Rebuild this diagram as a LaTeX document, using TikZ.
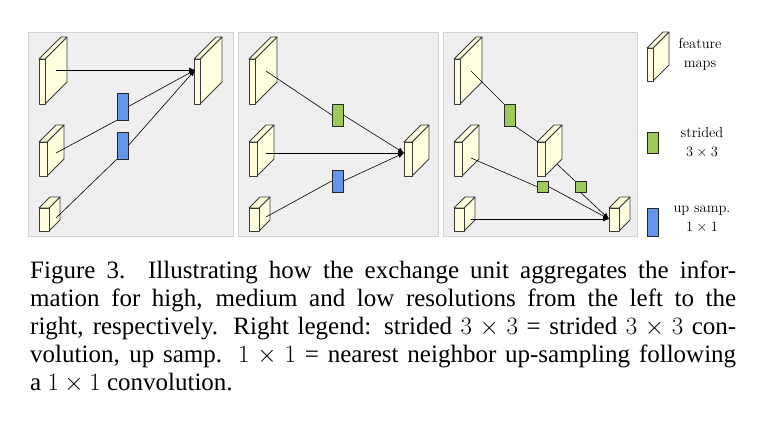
\documentclass[tikz,border=0pt]{standalone}
\usepackage{fontspec}
\newfontfamily\capfont{Liberation Serif}
\usetikzlibrary{arrows.meta}
\definecolor{cream}{HTML}{FFFFE0}
\definecolor{edge}{HTML}{3A3A3A}
\definecolor{bluebox}{HTML}{6495ED}
\definecolor{greenbox}{HTML}{9CC95A}
\definecolor{panelbg}{HTML}{EFEFEF}
\definecolor{panelbd}{HTML}{D2D2D2}
\tikzset{
  fm/.style={fill=cream,draw=edge,line width=0.8pt,line join=round},
  panel/.style={fill=panelbg,draw=panelbd,line width=0.8pt},
  op/.style={draw=black!85,line width=0.7pt,inner sep=0pt,minimum width=11pt},
  up/.style={op,fill=bluebox},
  st/.style={op,fill=greenbox},
  con/.style={draw=black,line width=0.6pt},
  arr/.style={con,-{Latex[length=6pt,width=5pt]}},
  leg/.style={font=\fontsize{14.5}{19}\selectfont,align=center}
}
\newcommand{\fmap}[6]{%
  \filldraw[fm] (#1+#3,#2) -- ++(#5,-#5) -- ++(0,#4) -- ++(-#5,#5) -- cycle;
  \filldraw[fm] (#1,#2) -- ++(#3,0) -- ++(#5,-#5) -- ++(-#3,0) -- cycle;
  \filldraw[fm] (#1,#2) rectangle ++(#3,#4);
  \coordinate (#6) at (#1,#2+#4/2);}
\begin{document}
\begin{tikzpicture}[x=1pt,y=-1pt]
\path[use as bounding box] (0,0) rectangle (764,426);
\fill[white] (0,0) rectangle (764,426);
% panels
\draw[panel] (28,32) rectangle (233,236);
\draw[panel] (238,32) rectangle (438,236);
\draw[panel] (443,32) rectangle (637,236);
% ---- panel 1
\fmap{39}{59}{6}{45}{22}{a1in}
\fmap{39}{142}{8}{34}{17}{a2in}
\fmap{39}{208}{10}{23}{11}{a3in}
\fmap{194}{59}{6}{45}{22}{a1out}
\coordinate (a1s) at (56,70);
\coordinate (a2s) at (56,153);
\coordinate (a3s) at (56,218);
\coordinate (a1t) at (195,70);
\node[up,minimum height=27pt] (ab1) at (122.5,106.5) {};
\node[up,minimum height=27pt] (ab2) at (122.5,145.5) {};
\draw[arr] (a1s) -- (a1t);
\draw[con] (a2s) -- (ab1.south west);
\draw[arr] (ab1.east) -- (a1t);
\draw[con] (a3s) -- (ab2.south west);
\draw[arr] (ab2.east) -- (a1t);
% ---- panel 2
\fmap{249}{59}{6}{45}{22}{b1in}
\fmap{249}{142}{8}{34}{17}{b2in}
\fmap{249}{208}{10}{23}{11}{b3in}
\fmap{404}{142}{8}{34}{17}{b2out}
\coordinate (b1s) at (266,71);
\coordinate (b2s) at (266,153);
\coordinate (b3s) at (266,217);
\coordinate (b2t) at (404,153);
\node[st,minimum height=22pt] (bg) at (337.5,115) {};
\node[up,minimum height=22pt] (bb) at (337.5,181) {};
\draw[con] (b1s) -- (bg.west);
\draw[arr] (bg.east) -- (b2t);
\draw[arr] (b2s) -- (b2t);
\draw[con] (b3s) -- (bb.west);
\draw[arr] (bb.east) -- (b2t);
% ---- panel 3
\fmap{454}{59}{6}{45}{22}{c1in}
\fmap{454}{142}{8}{34}{17}{c2in}
\fmap{454}{208}{10}{23}{11}{c3in}
\fmap{537}{142}{8}{34}{17}{cmid}
\fmap{609}{208}{10}{23}{11}{c3out}
\coordinate (c1s) at (471,71);
\coordinate (c2s) at (471,158);
\coordinate (c3s) at (471,219);
\coordinate (cms) at (557,164);
\coordinate (cmt) at (538,142);
\coordinate (c3t) at (609,219);
\node[st,minimum height=22pt] (cg) at (509.5,115) {};
\node[st,minimum height=11pt] (cq1) at (542.5,186.5) {};
\node[st,minimum height=11pt] (cq2) at (580.5,186.5) {};
\draw[con] (c1s) -- (cg.north west);
\draw[con] (cg.south east) -- (cmt);
\draw[con] (c2s) -- (cq1.west);
\draw[arr] (cq1.east) -- (c3t);
\draw[con] (cms) -- (cq2.north west);
\draw[arr] (cq2.south) -- (c3t);
\draw[arr] (c3s) -- (c3t);
% ---- legend
\fmap{647}{48}{6}{33}{16}{legfm}
\node[st,minimum height=21pt] (lg) at (652.5,142.5) {};
\node[up,minimum height=28pt] (lb) at (652.5,222) {};
\node[leg] (t1) at (700,54) {feature\\maps};
\node[leg] (t2) at (702,143) {strided\\$3\times 3$};
\node[leg] (t3) at (702,219) {up samp.\\$1\times 1$};
% ---- caption
\node[anchor=north west,inner sep=0pt,text width=706pt,align=justify,
      font=\capfont\fontsize{25}{28}\selectfont] (cap) at (30,261)
{Figure 3. Illustrating how the exchange unit aggregates the infor-\linebreak
mation for high, medium and low resolutions from the left to the\linebreak
right, respectively. Right legend: strided $3\times3$ = strided $3\times3$ con-\linebreak
volution, up samp. $1\times1$ = nearest neighbor up-sampling following\linebreak
a $1\times1$ convolution.};
\end{tikzpicture}
\end{document}
